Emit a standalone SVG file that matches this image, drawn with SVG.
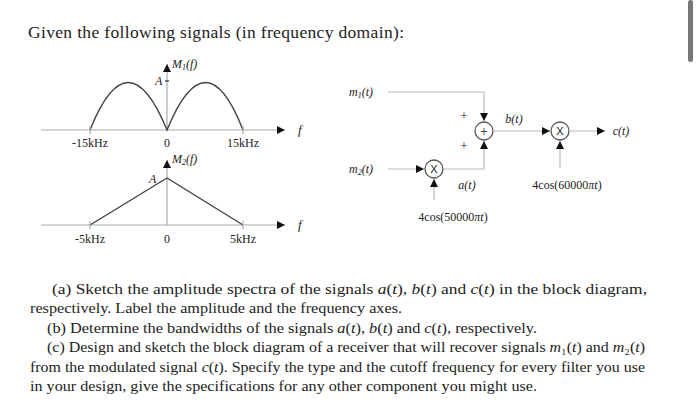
<svg xmlns="http://www.w3.org/2000/svg" width="700" height="409" viewBox="0 0 700 409">
<defs>
<style>
.t{font-family:"Liberation Serif",serif;fill:#222}
.ax{stroke:#aaa;stroke-width:1.2;fill:none}
.cv{stroke:#444;stroke-width:1.4;fill:none}
.ln{stroke:#bbb;stroke-width:1.2;fill:none}
.c{stroke:#555;stroke-width:1.3;fill:#fff}
.i{font-style:italic}
.s{font-family:"Liberation Sans",sans-serif}
</style>
<marker id="ar" viewBox="0 0 10 10" refX="10" refY="5" markerWidth="10" markerHeight="8" orient="auto-start-reverse" markerUnits="userSpaceOnUse"><path d="M0,0L10,5L0,10z" fill="#111"/></marker>
</defs>
<rect width="700" height="409" fill="#fff"/>
<rect x="688" y="0" width="5" height="62" rx="2.5" fill="#777"/>
<text class="t" x="28" y="38" font-size="17.5" textLength="376">Given the following signals (in frequency domain):</text>
<g id="spectrum1">
<line class="ax" x1="41" y1="130" x2="285" y2="130" marker-end="url(#ar)"/>
<line class="ax" x1="167" y1="130" x2="167" y2="64" marker-end="url(#ar)"/>
<path class="cv" d="M90,130 Q128,35 167,130 Q206,35 243,130"/>
<line class="ax" x1="90" y1="126" x2="90" y2="134"/><line class="ax" x1="243" y1="126" x2="243" y2="134"/>
<line class="cv" x1="165" y1="81" x2="169" y2="81"/>
<text class="t i" x="155" y="85" font-size="12">A</text>
<text class="t i" x="172" y="68" font-size="12">M<tspan font-size="8" dy="2">1</tspan><tspan dy="-2">(f)</tspan></text>
<text class="t i" x="298" y="134" font-size="13">f</text>
<text class="t" x="90" y="147" font-size="12" text-anchor="middle">-15kHz</text>
<text class="t" x="167" y="147" font-size="12" text-anchor="middle">0</text>
<text class="t" x="243" y="147" font-size="12" text-anchor="middle">15kHz</text>
</g>
<g id="spectrum2">
<line class="ax" x1="41" y1="225" x2="285" y2="225" marker-end="url(#ar)"/>
<line class="ax" x1="167" y1="225" x2="167" y2="160" marker-end="url(#ar)"/>
<path class="cv" d="M90,225 L167,178 L243,225"/>
<line class="ax" x1="90" y1="221" x2="90" y2="229"/><line class="ax" x1="243" y1="221" x2="243" y2="229"/>
<text class="t i" x="149" y="183" font-size="12">A</text>
<text class="t i" x="172" y="163" font-size="12">M<tspan font-size="8" dy="2">2</tspan><tspan dy="-2">(f)</tspan></text>
<text class="t i" x="298" y="229" font-size="13">f</text>
<text class="t" x="90" y="243" font-size="12" text-anchor="middle">-5kHz</text>
<text class="t" x="167" y="243" font-size="12" text-anchor="middle">0</text>
<text class="t" x="243" y="243" font-size="12" text-anchor="middle">5kHz</text>
</g>
<g id="connectors">
<path class="ln" d="M388,92 H484 V121" marker-end="url(#ar)"/>
<path class="ln" d="M388,169 H424" marker-end="url(#ar)"/>
<path class="ln" d="M444,169 H484 V141" marker-end="url(#ar)"/>
<path class="ln" d="M434,200 V179" marker-end="url(#ar)"/>
<path class="ln" d="M494,131 H550" marker-end="url(#ar)"/>
<path class="ln" d="M560,168 V141" marker-end="url(#ar)"/>
<path class="ln" d="M570,131 H605" marker-end="url(#ar)"/>
</g>
<g id="adder"><circle class="c" cx="484" cy="131" r="9"/><text class="t" x="484" y="135.5" font-size="14" text-anchor="middle">+</text></g>
<g id="mult1"><circle class="c" cx="434" cy="169" r="9"/><text class="t s" x="434" y="173" font-size="11" text-anchor="middle">X</text></g>
<g id="mult2"><circle class="c" cx="560" cy="131" r="9"/><text class="t s" x="560" y="135" font-size="11" text-anchor="middle">X</text></g>
<g id="labels">
<text class="t i" x="349" y="96" font-size="12">m<tspan font-size="8" dy="2">1</tspan><tspan dy="-2">(t)</tspan></text>
<text class="t i" x="349" y="173" font-size="12">m<tspan font-size="8" dy="2">2</tspan><tspan dy="-2">(t)</tspan></text>
<text class="t" x="464" y="120" font-size="13" text-anchor="middle">+</text>
<text class="t" x="464" y="150" font-size="13" text-anchor="middle">+</text>
<text class="t i" x="514" y="123" font-size="12" text-anchor="middle">b(t)</text>
<text class="t i" x="621" y="135" font-size="12" text-anchor="middle">c(t)</text>
<text class="t i" x="467" y="189" font-size="12" text-anchor="middle">a(t)</text>
<text class="t" x="567" y="189" font-size="12" text-anchor="middle">4cos(60000<tspan class="i">πt</tspan>)</text>
<text class="t" x="453" y="221" font-size="12" text-anchor="middle">4cos(50000<tspan class="i">πt</tspan>)</text>
</g>
<g id="question" font-size="14.5">
<text class="t" x="52" y="294" textLength="595" lengthAdjust="spacingAndGlyphs">(a) Sketch the amplitude spectra of the signals <tspan class="i">a</tspan>(<tspan class="i">t</tspan>), <tspan class="i">b</tspan>(<tspan class="i">t</tspan>) and <tspan class="i">c</tspan>(<tspan class="i">t</tspan>) in the block diagram,</text>
<text class="t" x="30" y="313" textLength="372" lengthAdjust="spacingAndGlyphs">respectively. Label the amplitude and the frequency axes.</text>
<text class="t" x="47" y="333" textLength="490" lengthAdjust="spacingAndGlyphs">(b) Determine the bandwidths of the signals <tspan class="i">a</tspan>(<tspan class="i">t</tspan>), <tspan class="i">b</tspan>(<tspan class="i">t</tspan>) and <tspan class="i">c</tspan>(<tspan class="i">t</tspan>), respectively.</text>
<text class="t" x="47" y="352" textLength="598" lengthAdjust="spacingAndGlyphs">(c) Design and sketch the block diagram of a receiver that will recover signals <tspan class="i">m</tspan>₁(<tspan class="i">t</tspan>) and <tspan class="i">m</tspan>₂(<tspan class="i">t</tspan>)</text>
<text class="t" x="30" y="372" textLength="615" lengthAdjust="spacingAndGlyphs">from the modulated signal <tspan class="i">c</tspan>(<tspan class="i">t</tspan>). Specify the type and the cutoff frequency for every filter you use</text>
<text class="t" x="30" y="391" textLength="507" lengthAdjust="spacingAndGlyphs">in your design, give the specifications for any other component you might use.</text>
</g>
</svg>
